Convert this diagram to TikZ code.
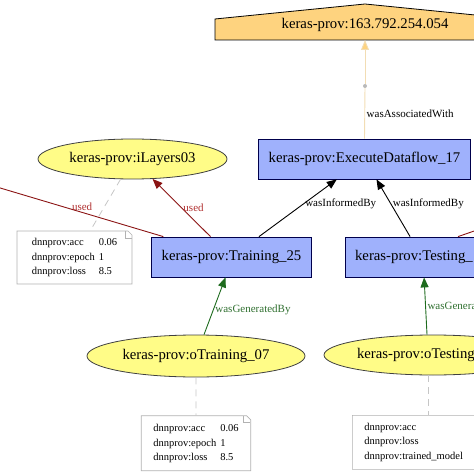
\documentclass[tikz,border=0pt]{standalone}
\usepackage{fontspec}
\setmainfont{Liberation Serif}
\usetikzlibrary{positioning,arrows.meta,shapes.geometric,shapes.misc}
\definecolor{actfill}{HTML}{9FB1FC}
\definecolor{entfill}{HTML}{FFFC87}
\definecolor{agfill}{HTML}{FED37F}
\definecolor{usedcol}{HTML}{8B1414}
\definecolor{usedtxt}{HTML}{B03030}
\definecolor{gencol}{HTML}{1E6B1E}
\definecolor{gentxt}{HTML}{2F6F2F}
\definecolor{assoccol}{HTML}{F2DDB4}

\begin{document}
\begin{tikzpicture}[
  x=1bp, y=-1bp,
  act/.style={draw=blue!30!black, fill=actfill, line width=0.8bp, minimum height=40bp, inner xsep=10bp, font=\fontsize{14.75bp}{17bp}\selectfont},
  ent/.style={ellipse, draw=gray!50!black, fill=entfill, line width=0.8bp, inner sep=0pt, font=\fontsize{14.75bp}{17bp}\selectfont},
  attrs/.style={chamfered rectangle, chamfered rectangle corners=north east, chamfered rectangle xsep=2bp, chamfered rectangle ysep=2bp,
    draw=gray!60, fill=white, line width=0.7bp, inner xsep=10bp, inner ysep=2bp, font=\fontsize{10.5bp}{14.5bp}\selectfont,
    path picture={\draw[gray!60, line width=0.7bp] ([xshift=-7bp]path picture bounding box.north east) -- ++(0,-7bp) -- ++(7bp,0);}},
  lbl/.style={font=\fontsize{11bp}{13bp}\selectfont, inner sep=1.5bp},
  usedarr/.style={draw=usedcol, line width=0.9bp, -{Triangle[length=10bp,width=8bp]}},
  genarr/.style={draw=gencol, line width=0.9bp, -{Triangle[length=10bp,width=8bp]}},
  infarr/.style={draw=black, line width=0.9bp, -{Triangle[length=10bp,width=8bp]}},
  assocarr/.style={draw=assoccol, line width=0.9bp, -{Triangle[length=10bp,width=8bp,fill=agfill]}},
  annot/.style={draw=gray!45, line width=0.8bp, dash pattern=on 7bp off 5bp}
]
  \useasboundingbox (0,0) rectangle (474,474);
  \clip (0,0) rectangle (474,474);

  % agent
  \draw[fill=agfill, line width=0.8bp] (215,40) -- (215,19) -- (365,4) -- (515,19) -- (515,40) -- cycle;
  \node[font=\fontsize{14.75bp}{17bp}\selectfont] (agent) at (365,25) {keras-prov:163.792.254.054};
  \coordinate (agbase) at (365,40);
  \node[circle, fill=gray!55, inner sep=0pt, minimum size=4bp] (assoc) at (365,86) {};

  % activities
  \node[act, minimum width=211bp] (exec) at (364.5,159) {keras-prov:ExecuteDataflow\_17};
  \node[act, minimum width=159bp] (train) at (231.5,257) {keras-prov:Training\_25};
  \node[act, right=33bp of train, minimum width=200bp, text width=180bp, align=left] (test) {keras-prov:Testing\_};

  % entities
  \node[ent, minimum width=189bp, minimum height=40bp] (ilay) at (132.5,159) {keras-prov:iLayers03};
  \node[ent, minimum width=218bp, minimum height=42bp] (otrain) at (196,356) {keras-prov:oTraining\_07};
  \node[ent, minimum width=218bp, minimum height=40bp, text width=152bp, align=left] (otest) at (433,355) {keras-prov:oTesting};

  % attributes
  \node[attrs, minimum width=115bp, minimum height=53bp] (n1) at (74.5,257.5) {\begin{tabular}{@{}l@{\hspace{4bp}}l@{}}
    dnnprov:acc & 0.06\\ dnnprov:epoch & 1\\ dnnprov:loss & 8.5\end{tabular}};
  \node[attrs, below=38bp of otrain, minimum width=107bp, minimum height=55bp] (n2) {\begin{tabular}{@{}l@{\hspace{4bp}}l@{}}
    dnnprov:acc & 0.06\\ dnnprov:epoch & 1\\ dnnprov:loss & 8.5\end{tabular}};
  \node[attrs, anchor=north west, minimum height=54bp, text width=140bp, align=left] (n3) at (352,415) {dnnprov:acc\\ dnnprov:loss\\ dnnprov:trained\_model};

  \coordinate (offL) at (-30,179);
  \coordinate (offR) at (500,222);

  % edges
  \draw[assocarr, -] (exec.north) -- node[lbl, right, pos=.5] {wasAssociatedWith} (assoc);
  \draw[assocarr] (assoc) -- (agbase);
  \draw[infarr] ([xshift=27.5bp]train.north) -- node[lbl, right, pos=.57] {wasInformedBy} (exec);
  \draw[infarr] ([xshift=-35bp]test.north) -- node[lbl, right, pos=.57] {wasInformedBy} (exec);
  \draw[usedarr] ([xshift=-21bp]train.north) -- node[lbl, right, text=usedtxt, pos=.5] {used} (ilay);
  \draw[usedarr, -] ([xshift=12bp]train.north west) -- node[lbl, above, text=usedtxt, pos=.42] {used} (offL);
  \draw[usedarr, -] ([xshift=13bp]test.north) -- (offR);
  \draw[genarr] ([xshift=8bp]otrain.north) -- node[lbl, right, text=gentxt, pos=.44] {wasGeneratedBy} ([xshift=-6bp]train.south);
  \draw[genarr] ([xshift=-6bp]otest.north) -- node[lbl, right, text=gentxt, pos=.49] {wasGeneratedBy} ([xshift=-21bp]test.south);

  \draw[annot] (ilay) -- (n1);
  \draw[annot] (otrain) -- (n2);
  \draw[annot] ([xshift=-5bp]otest.south) -- ([xshift=-5bp]otest.south |- n3.north);
\end{tikzpicture}
\end{document}
